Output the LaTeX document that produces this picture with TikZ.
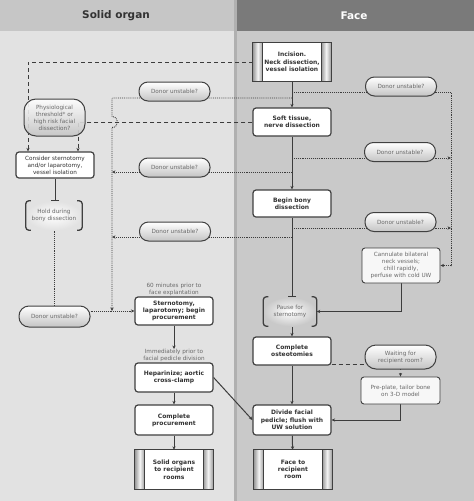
\documentclass[tikz,border=0pt]{standalone}
\usepackage{fontspec}
\setmainfont{DejaVu Sans}
\usetikzlibrary{arrows.meta,calc}
\definecolor{lbg}{HTML}{E2E2E2}
\definecolor{rbg}{HTML}{C9C9C9}
\definecolor{lhd}{HTML}{C6C6C6}
\definecolor{rhd}{HTML}{7A7A7A}
\definecolor{divc}{HTML}{B0B0B0}
\definecolor{bord}{HTML}{404040}
\definecolor{btxt}{HTML}{333333}
\definecolor{gtxt}{HTML}{6A6A6A}
\definecolor{lnc}{HTML}{3C3C3C}
\definecolor{pillc}{HTML}{C4C4C4}
\pgfdeclarelayer{panel}
\pgfdeclarelayer{lines}
\pgfsetlayers{panel,lines,main}
\newcommand{\bfnt}{\fontsize{6}{7.3}\selectfont\bfseries}
\newcommand{\nfnt}{\fontsize{5.7}{7}\selectfont}
\newcommand{\mystripes}[1]{%
  \shade[left color=gray!80, right color=gray!80, middle color=gray!8]
    (#1.north west) rectangle ([xshift=10pt]#1.south west);
  \shade[left color=gray!80, right color=gray!80, middle color=gray!8]
    ([xshift=-10pt]#1.north east) rectangle (#1.south east);
  \draw[bord, line width=0.9pt] ([xshift=10pt]#1.north west) -- ([xshift=10pt]#1.south west);
  \draw[bord, line width=0.9pt] ([xshift=-10pt]#1.north east) -- ([xshift=-10pt]#1.south east);
  \draw[bord, line width=1.2pt] (#1.north west) rectangle (#1.south east);
}
\tikzset{
  box/.style={draw=bord, line width=1.2pt, rounded corners=3pt, fill=white, text=btxt,
    font=\bfnt, align=center, minimum width=78pt, inner sep=1pt},
  gbox/.style={draw=bord, line width=0.9pt, rounded corners=3pt, fill=white!88!lightgray, text=gtxt,
    font=\nfnt, align=center, minimum width=78pt, inner sep=1pt},
  pill/.style={draw=bord, line width=1pt, rounded corners=9pt, top color=white, bottom color=pillc,
    text=gtxt, font=\nfnt, align=center, minimum width=71pt, minimum height=19pt, inner sep=1pt},
  brnode/.style={text=gtxt, font=\nfnt, align=center, inner sep=1pt},
  brk/.style={draw=bord, line width=1.3pt, rounded corners=3pt},
  lbl/.style={text=gtxt, font=\nfnt, align=center, inner sep=0pt},
  striped/.style={fill=white, text=btxt, font=\bfnt, align=center,
    minimum width=78pt, minimum height=39pt, inner sep=1pt},
  ln/.style={draw=lnc, line width=1pt},
  arr/.style={ln, -{Stealth[length=3.5pt,width=3.2pt]}},
  dotl/.style={draw=lnc, line width=0.9pt, densely dotted},
  dotarr/.style={dotl, -{Stealth[length=3.5pt,width=3.2pt]}},
  dsh/.style={draw=lnc, line width=1pt, dash pattern=on 4pt off 3pt},
  barend/.style={-{Bar[width=8pt,line width=1.2pt]}},
}
\begin{document}
\begin{tikzpicture}[x=1pt,y=-1pt]
\useasboundingbox (0,0) rectangle (474,501);
% panels
\begin{pgfonlayer}{panel}
\fill[lbg] (0,0) rectangle (237,501);
\fill[rbg] (237,0) rectangle (474,501);
\fill[lhd] (0,0) rectangle (237,31);
\fill[rhd] (237,0) rectangle (474,31);
\fill[divc] (234,0) rectangle (237,501);
\end{pgfonlayer}
\node[font=\fontsize{10.5}{12}\selectfont\bfseries, text=btxt] (hl) at (116,16) {Solid organ};
\node[font=\fontsize{10.5}{12}\selectfont\bfseries, text=white] (hr) at (354,16) {Face};

% face column
\node[striped] (inc) at (292,62) {Incision.\\Neck dissection,\\vessel isolation};
\node[box, minimum height=28pt] (soft) at (292,122) {Soft tissue,\\nerve dissection};
\node[box, minimum height=27pt] (bony) at (292,203.5) {Begin bony\\dissection};
\node[brnode, minimum width=53pt, minimum height=29pt, inner color=white, outer color=rbg] (pause) at (290,311.5) {Pause for\\sternotomy};
\node[box, minimum height=28pt] (oste) at (292,351) {Complete\\osteotomies};
\node[box, minimum height=30pt] (divide) at (292,420) {Divide facial\\pedicle; flush with\\UW solution};
\node[striped] (facerm) at (293,469.5) {Face to\\recipient\\room};

% right side
\node[pill] (du1) at (401,86.5) {Donor unstable?};
\node[pill] (du2) at (400,152) {Donor unstable?};
\node[pill] (du3) at (400.5,222) {Donor unstable?};
\node[gbox, minimum height=35pt] (cann) at (401,265.5) {Cannulate bilateral\\neck vessels;\\chill rapidly,\\perfuse with cold UW};
\node[pill, minimum height=24pt, rounded corners=11pt] (wait) at (400.5,357) {Waiting for\\recipient room?};
\node[gbox, minimum height=27pt, minimum width=79pt] (pre) at (400.5,390.5) {Pre-plate, tailor bone\\on 3-D model};

% left column
\node[pill] (du4) at (174.5,91.5) {Donor unstable?};
\node[pill, minimum width=61pt, minimum height=37pt, rounded corners=12pt, fill opacity=0.9, text opacity=1] (phys) at (54.5,117.5) {Physiological\\threshold* or\\high risk facial\\dissection?};
\node[pill] (du5) at (174.5,167.5) {Donor unstable?};
\node[box, minimum height=26pt, font=\nfnt, text=btxt] (cons) at (55,165) {Consider sternotomy\\and/or laparotomy,\\vessel isolation};
\node[brnode, minimum width=56pt, minimum height=29pt, inner color=white, outer color=lbg] (hold) at (54,215.5) {Hold during\\bony dissection};
\node[pill] (du6) at (175,231.5) {Donor unstable?};
\node[pill, minimum height=21pt, rounded corners=10pt] (du7) at (54.5,316.5) {Donor unstable?};
\node[lbl] (lab1) at (174,289.5) {60 minutes prior to\\face explantation};
\node[box, minimum height=28pt] (stern) at (174,311) {Sternotomy,\\laparotomy; begin\\procurement};
\node[lbl] (lab2) at (174,355.5) {Immediately prior to\\facial pedicle division};
\node[box, minimum height=29pt] (hep) at (174,377.5) {Heparinize; aortic\\cross-clamp};
\node[box, minimum height=30pt] (comp) at (174,420) {Complete\\procurement};
\node[striped] (solid) at (174,469.5) {Solid organs\\to recipient\\rooms};

\mystripes{inc}
\mystripes{facerm}
\mystripes{solid}

% brackets
\foreach \n in {pause,hold}{
  \draw[brk] ([xshift=5pt]\n.north west) -- (\n.north west) -- (\n.south west) -- ([xshift=5pt]\n.south west);
  \draw[brk] ([xshift=-5pt]\n.north east) -- (\n.north east) -- (\n.south east) -- ([xshift=-5pt]\n.south east);
}

% junction coordinates
\coordinate (ja) at (292,92);
\coordinate (jd) at (292,98);
\coordinate (jb) at (292,158);
\coordinate (je) at (292,172);
\coordinate (jc) at (292,228);
\coordinate (jf) at (292,237);
\coordinate (rr) at (451,92);
\coordinate (vl) at (112,98);
\coordinate (dl) at (28,62);
\coordinate (dr) at (78,122);

\begin{pgfonlayer}{lines}
% solid face chain
\draw[arr] (inc) -- (soft);
\draw[arr] (soft) -- (bony);
\draw[ln, barend] (bony.south) -- (bony.south |- pause.north);
\draw[ln, {Bar[width=8pt,line width=1.2pt]}-{Stealth[length=3.5pt,width=3.2pt]}] (oste.north |- pause.south) -- (oste.north);
\draw[arr] (oste) -- (divide);
\draw[arr] (divide) -- (facerm);
\draw[arr] (cann.south) |- (pause.east);
\draw[arr] (pre.south) |- (divide.east);
\draw[arr] (hep.east) -- (divide.west);
% solid organ chain
\draw[ln, barend] (cons.south) -- (cons.south |- hold.north);
\draw[arr] (stern.south) -- (lab2.north);
\draw[arr] (hep) -- (comp);
\draw[arr] (comp) -- (solid);
% dotted right
\draw[dotarr] (ja) -- (rr) |- (cann.east);
\draw[dotarr] (jb) -- (jb -| rr);
\draw[dotarr] (jc) -- (jc -| rr);
% dotted left
\draw[dotarr] (jd) -- (vl) -- (112,116.5) .. controls (119.3,116.5) and (119.3,127.5) .. (112,127.5) -- (vl |- stern.west);
\draw[dotarr] (je) -- (je -| vl);
\draw[dotarr] (jf) -- (jf -| vl);
\draw[dotarr] (du7.east |- stern.west) -- (stern.west);
\draw[dotl, barend] (du7.north) -- (du7.north |- hold.south);
% dashed
\draw[dsh, -{Stealth[length=3.5pt,width=3.2pt]}] (inc.west) -- (dl) -- (dl |- cons.north);
\draw[dsh, -{Stealth[length=3.5pt,width=3.2pt]}] (soft.west) -- (dr) -- (dr |- cons.north);
\draw[dsh, -{Stealth[length=3.5pt,width=3.2pt]}] ([yshift=1pt]oste.south east) -| (pre.north);
\end{pgfonlayer}
\end{tikzpicture}
\end{document}
